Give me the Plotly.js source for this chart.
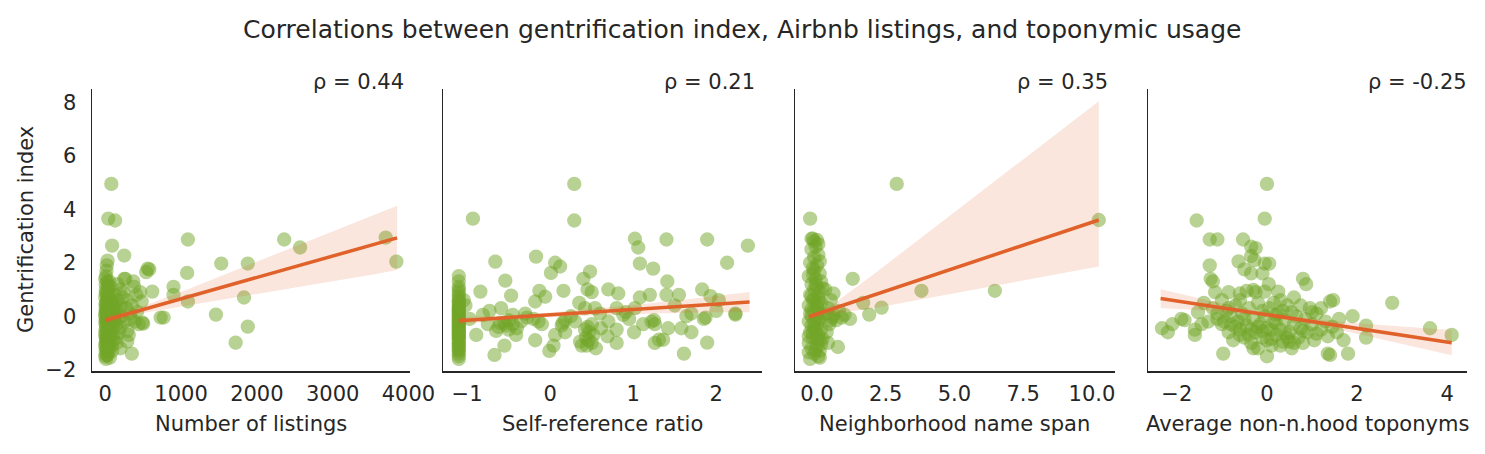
<!DOCTYPE html>
<html>
<head>
<meta charset="utf-8">
<script src="https://cdn.plot.ly/plotly-3.0.1.min.js"></script>
<style>
  body { margin: 0; background: #fff; }
  #chart { width: 1485px; height: 454px; }
</style>
</head>
<body>
<div id="chart"></div>
<script>
// points, [x, gentrification index]
var listingsPts = [
  [80,4.95],[40,3.65],[130,3.58],[90,2.64],[250,2.27],[30,2.08],[20,1.9],[1090,2.87],[1080,1.62],
  [1530,1.97],[1880,1.97],[2360,2.87],[2570,2.57],[3700,2.94],[3840,2.04],[1830,0.70],[1880,-0.39],
  [1720,-0.99],[1460,0.06],[1090,0.55],[900,1.1],[900,0.8],[730,-0.05],[770,-0.05],[580,1.75],
  [540,1.65],[620,0.92],[500,-0.28],[350,-1.4],[290,-0.95],[250,1.4],[370,1.3],[460,0.9],[480,0.55],
  [420,0.17],[390,-0.2],[290,-0.55],[200,-1.2],[240,0.9],[200,0.4],[130,0.0],[560,1.78],[265,1.4],
  [490,-0.24],[0,-1.5],
  [10,1.5],[25,1.3],[5,1.2],[40,1.0],[15,0.9],[60,0.8],[0,0.7],[30,0.6],[80,0.55],[10,0.5],[45,0.4],
  [100,0.35],[5,0.3],[20,0.25],[70,0.2],[0,0.1],[35,0.05],[120,0.1],[50,-0.05],[10,-0.1],[90,-0.15],
  [25,-0.2],[0,-0.25],[60,-0.3],[150,-0.3],[15,-0.4],[40,-0.45],[5,-0.5],[75,-0.55],[30,-0.6],[0,-0.7],
  [110,-0.7],[20,-0.8],[55,-0.85],[10,-0.9],[35,-1.0],[0,-1.05],[85,-1.1],[20,-1.2],[45,-1.3],[5,-1.35],
  [30,-1.45],[60,-1.55],[10,-1.6],[0,0.0],[15,0.15],[40,-0.35],[25,0.7],[70,1.1],[0,1.4],[50,0.3],
  [65,-0.1],[180,0.2],[200,-0.4],[160,0.6],[140,-0.8],[220,0.0],[8,-0.15],[18,0.45],[3,-0.6],[12,-1.0],
  [28,0.05],[45,-0.7],[100,-0.45],[130,0.5],[170,-0.1],[300,0.6],[330,0.1],[260,-0.2],[310,-0.7],
  [5,0.85],[22,0.35],[38,-0.15],[52,0.65],[68,-0.75],[95,0.05],[15,-1.25],[33,1.15],[48,-1.1],[2,0.45],
  [12,-0.3],[28,-0.5],[42,0.2],[58,-0.2],[78,-0.35],[88,0.45],[105,-0.9],[118,-0.2],[135,0.25],[8,1.0],
  [18,-1.45],[62,0.0],[72,0.6],[36,-0.85],[6,-0.8],[24,-0.05],[44,0.75],[16,1.7],[200,1.0],[230,0.7],
  [280,0.3],[350,0.4],[410,0.8],[440,-0.3],[340,-0.1],[380,1.1],[150,-1.0],[180,-0.6],[90,-1.3],
  [120,0.8],[160,1.2],[3,-1.15],[26,-0.95],[55,1.3],[9,0.2],[34,-0.25]
];

var selfRefPts = [
  [-1.1,1.5],[-1.1,1.3],[-1.1,1.1],[-1.1,1.0],[-1.1,0.9],[-1.1,0.8],[-1.1,0.7],[-1.1,0.6],[-1.1,0.5],
  [-1.1,0.4],[-1.1,0.3],[-1.1,0.2],[-1.1,0.1],[-1.1,0.0],[-1.1,-0.1],[-1.1,-0.2],[-1.1,-0.3],[-1.1,-0.4],
  [-1.1,-0.5],[-1.1,-0.6],[-1.1,-0.7],[-1.1,-0.8],[-1.1,-0.9],[-1.1,-1.0],[-1.1,-1.1],[-1.1,-1.2],
  [-1.1,-1.3],[-1.1,-1.4],[-1.1,-1.5],[-1.1,-1.6],[-1.1,0.05],[-1.1,-0.15],[-1.1,-0.35],[-1.1,-0.25],
  [-1.1,0.35],[-1.1,-0.55],[-1.1,0.15],[-1.1,-0.05],[-1.1,-0.45],[-1.1,-0.65],[-1.1,0.25],[-1.1,-0.75],
  [-1.1,-1.05],[-1.1,0.55],[-1.1,-0.85],[-1.1,-1.25],
  [0.29,4.95],[0.29,3.58],[-0.93,3.65],[1.02,2.9],[1.06,2.57],[1.40,2.87],[1.89,2.87],[2.38,2.64],
  [2.13,2.0],[1.08,1.97],[1.24,1.78],[-0.17,2.23],[-0.66,2.04],[0.06,2.0],[0.12,1.86],[0.01,1.62],
  [-0.54,1.33],[0.48,1.67],[0.4,1.4],[0.45,1.0],[0.5,0.9],[0.16,0.95],[-0.13,0.95],[-0.06,0.73],
  [-0.84,0.92],[-0.47,0.77],[-0.18,0.55],[0.7,1.0],[0.82,0.85],[1.41,1.3],[1.4,0.8],[1.55,0.8],
  [1.83,1.0],[1.93,0.75],[2.03,0.6],[1.08,0.7],[1.2,0.8],[2.23,0.06],[2.23,0.1],[1.87,-0.05],[1.64,0.0],
  [1.89,-0.99],[1.61,-1.4],[1.31,-0.88],[1.36,-0.88],[1.26,-1.0],[1.58,-0.45],[1.7,-0.6],[1.42,-0.45],
  [1.26,-0.3],[1.22,-0.2],[1.01,-0.6],[1.12,-0.3],[0.8,-1.0],[0.8,-0.5],[0.69,-0.75],[0.61,-0.45],
  [0.91,0.15],[1.02,0.3],[0.8,0.3],[0.88,0.05],[0.42,0.3],[0.54,0.3],[0.45,-0.4],[0.47,-0.6],[0.43,-0.8],
  [0.52,-0.7],[0.5,-1.0],[0.55,-1.2],[0.44,-1.1],[0.38,-1.1],[0.36,-0.95],[0.18,-0.6],[0.18,-0.15],
  [0.14,-0.35],[0.06,-0.7],[0.04,-1.1],[-0.01,-1.3],[-0.18,-0.9],[-0.14,-0.2],[-0.1,-0.3],[-0.2,-0.1],
  [-0.28,-0.05],[-0.41,-0.7],[-0.45,0.05],[-0.53,-0.35],[-0.55,-1.1],[-0.65,-0.55],[-0.67,-1.45],
  [-0.59,0.3],[-0.73,0.2],[-0.81,0.05],[-0.89,-0.7],[-0.97,-0.1],[-1.04,0.6],[-1.02,0.4],[-0.35,-0.2],
  [-0.5,-0.15],[-0.6,-0.25],[-0.3,0.1],[0.3,-0.2],[0.25,0.0],[0.6,0.1],[0.7,-0.2],[1.5,0.4],[1.7,0.1],
  [2.0,0.2],[0.95,-0.1],[-0.75,-0.3],[-0.4,-0.45],[0.35,0.5],[-0.55,-0.25],[-0.62,-0.4],[-0.5,-0.5],
  [-0.45,-0.3],[0.42,-0.5],[0.5,-0.3],[0.46,-0.9],[0.15,-0.25],[1.25,-0.15],[1.85,-0.1]
];

var spanPts = [
  [-0.25,3.65],[-0.15,2.9],[0.0,2.85],[-0.1,2.8],[-0.05,2.6],[-0.2,2.5],[0.05,2.3],[-0.1,2.2],[-0.25,2.0],
  [0.0,1.9],[-0.15,1.8],[0.1,1.6],[-0.3,1.5],[-0.05,1.4],[0.15,1.3],[-0.2,1.2],[0.0,1.1],[-0.1,1.0],
  [0.1,0.9],[-0.25,0.8],[0.05,0.7],[-0.15,0.6],[0.15,0.5],[-0.3,0.4],[0.0,0.3],[-0.1,0.2],[0.1,0.1],
  [-0.2,0.0],[0.05,-0.1],[-0.3,-0.2],[0.0,-0.3],[-0.1,-0.4],[0.15,-0.5],[-0.25,-0.6],[0.05,-0.7],
  [-0.15,-0.8],[0.1,-0.9],[-0.3,-1.0],[0.0,-1.1],[-0.2,-1.2],[0.1,-1.3],[-0.1,-1.4],[0.05,-1.5],
  [-0.25,-1.6],[0.1,-1.55],[-0.05,-0.55],[0.0,0.45],[-0.2,-0.35],[0.1,-0.15],[-0.1,0.65],[0.2,1.05],
  [-0.3,-0.75],[0.05,0.15],[-0.15,1.55],[0.2,-0.85],[-0.05,-1.25],[-0.2,0.25],[0.0,-0.05],[-0.1,-0.2],
  [-0.25,0.1],[0.05,0.55],[-0.15,-0.6],[0.0,-0.85],[-0.2,0.75],[-0.05,1.2],[-0.3,-1.35],[0.1,2.05],
  [-0.2,2.9],[0.05,2.7],[-0.1,1.7],[0.15,-1.05],
  [2.9,4.95],[10.25,3.6],[1.3,1.4],[3.8,0.95],[6.47,0.95],[2.35,0.32],[1.9,0.06],[1.68,0.5],[1.2,-0.1],
  [1.0,0.05],[0.7,-0.15],[0.6,0.05],[0.6,0.85],[0.76,-1.15],[0.4,-1.0],[0.5,0.6],[0.4,0.3],[0.45,-0.3],
  [0.35,-0.6],[0.3,1.0],[0.35,0.1],[0.55,-0.05],[0.8,0.2],[0.5,-0.15],[0.9,-0.05]
];

var toponymPts = [
  [0,4.95],[-0.05,3.65],[-1.56,3.58],[-1.27,2.87],[-1.1,2.87],[-0.53,2.87],[-0.35,2.6],[-0.25,2.55],
  [-0.35,2.25],[-0.28,2.1],[-0.63,2.05],[-0.05,1.97],[0.05,1.97],[-1.27,1.9],[-0.5,1.75],[-0.35,1.6],
  [-0.1,1.6],[-1.25,1.4],[-1.2,1.3],[0.8,1.4],[0.87,1.2],[0.04,1.2],[-1.15,0.9],[-0.85,0.9],[-0.6,0.85],
  [-0.45,0.95],[-0.3,0.98],[-0.25,0.9],[-0.05,0.92],[0.25,0.92],[0.6,0.7],[1.4,0.55],[1.47,0.6],
  [2.78,0.5],[1.2,0.3],[1.0,0.15],[0.75,0.4],[-2.33,-0.45],[-2.2,-0.6],[-2.1,-0.3],[-1.9,-0.1],
  [-1.83,-0.15],[-1.6,-0.5],[-1.6,-0.7],[-1.53,0.15],[-1.4,0.5],[-0.97,-1.4],[0,-1.5],[1.35,-1.4],
  [1.4,-1.45],[1.8,-1.4],[1.9,0.0],[2.2,-0.35],[2.2,-0.8],[3.62,-0.45],[4.1,-0.7],
  [-1.2,0.3],[-1.1,-0.1],[-1.0,-0.3],[-0.9,0.2],[-0.85,-0.6],[-0.8,0.0],[-0.75,-0.9],[-0.7,0.4],
  [-0.65,-0.2],[-0.6,-0.5],[-0.55,0.1],[-0.5,-0.8],[-0.45,-0.35],[-0.4,0.3],[-0.35,-1.0],[-0.3,-0.1],
  [-0.25,-0.6],[-0.2,0.5],[-0.15,-0.3],[-0.1,-0.8],[-0.05,0.0],[0.0,-0.45],[0.05,0.3],[0.1,-1.1],
  [0.15,-0.2],[0.2,-0.7],[0.25,0.1],[0.3,-0.5],[0.35,-0.95],[0.4,-0.15],[0.45,0.4],[0.5,-0.6],
  [0.55,-1.2],[0.6,-0.3],[0.65,0.0],[0.7,-0.8],[0.75,-0.45],[0.8,-1.0],[0.85,-0.1],[0.9,-0.6],[1.0,-0.3],
  [1.05,-0.9],[1.1,0.1],[1.2,-0.5],[1.3,-0.2],[1.35,-0.75],[1.45,-0.4],[1.55,-0.6],[1.6,-0.1],
  [-0.95,-0.2],[-0.6,0.6],[-0.2,-1.2],[0.3,0.6],[0.2,-0.25],[-0.1,-0.55],[0.0,-0.9],[-0.4,-0.7],
  [0.45,-0.8],[-0.7,-0.4],[-1.3,-0.2],[-1.45,-0.3],[-1.0,0.6],[0.15,0.5],[0.95,0.3],[1.7,-0.9],
  [-0.3,-1.2],[0.6,-1.0],[0.35,0.2],[-0.85,0.3],[-1.1,0.1],[-0.5,-0.1],[-0.2,-0.4],[0.1,-0.5],
  [0.4,-0.65],[0.2,0.05],[-0.1,0.2],[0.5,-0.95],[0.8,-0.55],[-0.6,-0.7],[0.1,-0.85],[-0.35,-0.5],
  [0.55,0.15],[-0.8,-0.3],[0.3,-1.1],[1.1,-0.65]
];

// regression fits and confidence bands
var fitX1 = [0, 3850], fitY1 = [-0.15, 2.93];
var bandX1 = [0, 500, 1000, 1500, 2000, 2500, 3000, 3500, 3850];
var bandHi1 = [-0.02, 0.38, 0.91, 1.47, 2.03, 2.59, 3.15, 3.72, 4.13];
var bandLo1 = [-0.28, 0.12, 0.37, 0.61, 0.85, 1.07, 1.31, 1.54, 1.73];

var fitX2 = [-1.1, 2.4], fitY2 = [-0.17, 0.53];
var bandX2 = [-1.1, -0.5, 0, 0.5, 1, 1.5, 2, 2.4];
var bandHi2 = [-0.04, 0.04, 0.14, 0.27, 0.42, 0.58, 0.75, 0.91];
var bandLo2 = [-0.30, -0.14, -0.04, 0.03, 0.08, 0.12, 0.15, 0.15];

var fitX3 = [-0.3, 10.25], fitY3 = [-0.02, 3.6];
var bandX3 = [-0.3, 0.5, 2, 4, 6, 8, 10.25];
var bandHi3 = [0.05, 0.38, 1.52, 3.1, 4.68, 6.26, 8.04];
var bandLo3 = [-0.12, 0.08, 0.29, 0.67, 1.05, 1.43, 1.86];

var fitX4 = [-2.36, 4.1], fitY4 = [0.66, -0.99];
var bandX4 = [-2.36, -1.5, -0.5, 0.3, 1, 2, 3, 4.1];
var bandHi4 = [1.01, 0.66, 0.28, 0.06, -0.10, -0.26, -0.39, -0.52];
var bandLo4 = [0.31, 0.22, 0.08, -0.10, -0.30, -0.66, -1.03, -1.46];

var xLabels = ['Number of listings', 'Self-reference ratio', 'Neighborhood name span', 'Average non-n.hood toponyms'];
var rhoLabels = ['ρ = 0.44', 'ρ = 0.21', 'ρ = 0.35', 'ρ = -0.25'];

var xTickVals = [[0, 1000, 2000, 3000, 4000], [-1, 0, 1, 2], [0, 2.5, 5, 7.5, 10], [-2, 0, 2, 4]];
var xTickText = [['0', '1000', '2000', '3000', '4000'], ['−1', '0', '1', '2'],
                 ['0.0', '2.5', '5.0', '7.5', '10.0'], ['−2', '0', '2', '4']];
var yTickVals = [-2, 0, 2, 4, 6, 8];
var yTickText = ['−2', '0', '2', '4', '6', '8'];

var W = 1485, H = 454;
var green = '#72a628';
var orange = '#e0622a';
var ink = '#262626';
var font = 'DejaVu Sans, sans-serif';
var fs = 21;

// pixel box of each panel (left, right), shared top/bottom
var panelLeft = [92, 443, 795, 1148];
var panelRight = [410, 762, 1115, 1467];
var rhoRight = [406, 757, 1110, 1469];
var panelTop = 89, panelBottom = 371;
var xRanges = [[-175, 4020], [-1.29, 2.55], [-0.8, 10.84], [-2.64, 4.44]];

var allPts = [listingsPts, selfRefPts, spanPts, toponymPts];
var fits = [[fitX1, fitY1], [fitX2, fitY2], [fitX3, fitY3], [fitX4, fitY4]];
var bands = [[bandX1, bandHi1, bandLo1], [bandX2, bandHi2, bandLo2],
             [bandX3, bandHi3, bandLo3], [bandX4, bandHi4, bandLo4]];

function col(pts, k) { return pts.map(function (p) { return p[k]; }); }

var data = [];
var layout = {
  width: W, height: H,
  margin: {t: 0, b: 0, l: 0, r: 0},
  paper_bgcolor: '#fff', plot_bgcolor: '#fff',
  showlegend: false,
  font: {family: font, color: ink, size: fs},
  annotations: []
};

for (var i = 0; i < 4; i++) {
  var sfx = i === 0 ? '' : String(i + 1);
  var xa = 'x' + sfx, ya = 'y' + sfx;

  data.push({
    type: 'scatter', mode: 'markers', xaxis: xa, yaxis: ya,
    x: col(allPts[i], 0), y: col(allPts[i], 1),
    marker: {size: 13, color: green, opacity: 0.5, line: {color: green, width: 1.3}}
  });

  var b = bands[i];
  data.push({
    type: 'scatter', mode: 'lines', xaxis: xa, yaxis: ya,
    x: b[0].concat(b[0].slice().reverse()),
    y: b[1].concat(b[2].slice().reverse()),
    fill: 'toself', fillcolor: 'rgba(224,98,42,0.16)', line: {width: 0}
  });

  data.push({
    type: 'scatter', mode: 'lines', xaxis: xa, yaxis: ya,
    x: fits[i][0], y: fits[i][1],
    line: {color: orange, width: 3.5}
  });

  layout['xaxis' + sfx] = {
    domain: [panelLeft[i] / W, panelRight[i] / W],
    anchor: ya, range: xRanges[i],
    showline: true, linecolor: ink, linewidth: 1.5, mirror: false,
    showgrid: false, zeroline: false,
    ticks: 'outside', ticklen: 3, tickcolor: 'rgba(0,0,0,0)',
    tickvals: xTickVals[i], ticktext: xTickText[i],
    tickfont: {family: font, size: fs, color: ink}
  };
  layout['yaxis' + sfx] = {
    domain: [1 - panelBottom / H, 1 - panelTop / H],
    anchor: xa, range: [-2.05, 8.5],
    showline: true, linecolor: ink, linewidth: 1.5,
    showgrid: false, zeroline: false,
    ticks: 'outside', ticklen: 10, tickcolor: 'rgba(0,0,0,0)',
    tickvals: yTickVals, ticktext: yTickText,
    showticklabels: i === 0,
    tickfont: {family: font, size: fs, color: ink}
  };

  layout.annotations.push({
    xref: 'paper', yref: 'paper', x: (panelLeft[i] + panelRight[i]) / 2 / W, y: 1 - 424 / H,
    text: xLabels[i], showarrow: false, xanchor: 'center', yanchor: 'middle',
    font: {family: font, size: fs, color: ink}
  });
  layout.annotations.push({
    xref: 'paper', yref: 'paper', x: rhoRight[i] / W, y: 1 - 82 / H,
    text: rhoLabels[i], showarrow: false, xanchor: 'right', yanchor: 'middle',
    font: {family: font, size: fs, color: ink}
  });
}

layout.annotations.push({
  xref: 'paper', yref: 'paper', x: 26 / W, y: 1 - 230 / H,
  text: 'Gentrification index', textangle: -90, showarrow: false,
  xanchor: 'center', yanchor: 'middle',
  font: {family: font, size: fs, color: ink}
});
layout.annotations.push({
  xref: 'paper', yref: 'paper', x: 742 / W, y: 1 - 30 / H,
  text: 'Correlations between gentrification index, Airbnb listings, and toponymic usage',
  showarrow: false, xanchor: 'center', yanchor: 'middle',
  font: {family: font, size: 25, color: ink}
});

Plotly.newPlot('chart', data, layout, {staticPlot: true});
</script>
</body>
</html>
